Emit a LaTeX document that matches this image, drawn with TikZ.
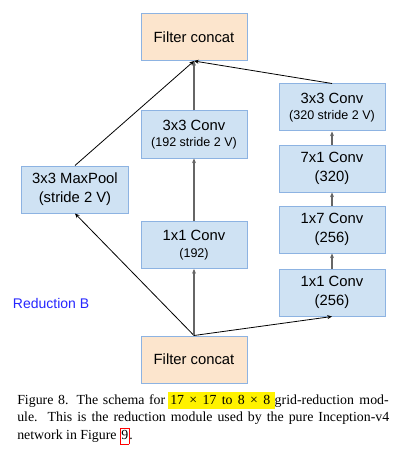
\documentclass[tikz,border=0pt]{standalone}
\usepackage{fontspec}
\setmainfont{Liberation Serif}
\setsansfont{Liberation Sans}
\usetikzlibrary{arrows.meta}

\definecolor{convfill}{HTML}{CFE2F3}
\definecolor{concatfill}{HTML}{FCE5CD}
\definecolor{boxline}{HTML}{8DB3E2}
\definecolor{labelblue}{HTML}{2626FF}
\definecolor{vline}{HTML}{666666}

\newcommand{\subtxt}[1]{{\fontsize{9.4}{11}\selectfont #1}}

\tikzset{
  layer/.style={draw=boxline, line width=0.75pt, inner sep=0pt,
    minimum width=79.5pt, minimum height=35.25pt, align=center,
    font=\sffamily\fontsize{11.1}{14}\selectfont},
  convbox/.style={layer, fill=convfill},
  concatbox/.style={layer, fill=concatfill},
  flow/.style={-{Stealth[length=3.5pt,width=3pt]}, vline, line width=0.9pt},
  skip/.style={-{Stealth[length=3.5pt,width=3pt]}, black, line width=0.6pt},
  captxt/.style={inner sep=0pt, font=\fontsize{10.4}{13}\selectfont}
}

\begin{document}
\begin{tikzpicture}[x=0.75pt, y=-0.75pt]
\useasboundingbox (0,0) rectangle (413,456);

% boxes
\node[concatbox] (concattop) at (194, 37) {Filter concat};
\node[convbox] (conv3a) at (194, 134.5) {3x3 Conv\\[-1.5pt]\subtxt{(192 stride 2 V)}};
\node[convbox] (conv1a) at (194, 245) {1x1 Conv\\[-1.5pt]\subtxt{(192)}};
\node[concatbox] (concatbot) at (194, 359.5) {Filter concat};
\node[convbox, minimum width=80.25pt] (pool) at (75, 189.5) {3x3 MaxPool\\(stride 2 V)};
\node[convbox] (conv3b) at (332, 107.5) {3x3 Conv\\[-1.5pt]\subtxt{(320 stride 2 V)}};
\node[convbox] (conv7b) at (332, 168.5) {7x1 Conv\\(320)};
\node[convbox] (conv17b) at (332, 229.5) {1x7 Conv\\(256)};
\node[convbox] (conv1b) at (332, 292.5) {1x1 Conv\\(256)};

\node[anchor=base west, inner sep=0pt, text=labelblue,
  font=\sffamily\fontsize{10.5}{12}\selectfont] (redlabel) at (12.7, 308) {Reduction B};

% connectors
\draw[skip] (concatbot.north) -- (pool.south);
\draw[flow] (concatbot.north) -- (conv1a.south);
\draw[skip] (concatbot.north) -- (conv1b.south);
\draw[flow] (conv1a) -- (conv3a);
\draw[flow] (conv3a) -- (concattop);
\draw[skip] (pool.north) -- (concattop.south);
\draw[flow] (conv1b) -- (conv17b);
\draw[flow] (conv17b) -- (conv7b);
\draw[flow] (conv7b) -- (conv3b);
\draw[skip] (conv3b.north) -- (concattop.south);

% caption
\fill[yellow] (168, 392) rectangle (275, 408.5);
\node[captxt, anchor=base west] (capa) at (17, 404)
  {\makebox[111pt][s]{Figure 8. The schema for}};
\node[captxt, anchor=base west] (capb) at (170, 404)
  {\makebox[75pt][s]{17 × 17 to 8 × 8}};
\node[captxt, anchor=base east] (capc) at (389, 404)
  {\makebox[85.5pt][s]{grid-reduction mod-}};
\node[captxt, anchor=base west] (capd) at (17, 421.5)
  {\makebox[279pt][s]{ule.\ \ This is the reduction module used by the pure Inception-v4}};
\node[captxt, anchor=base west] (cape) at (17, 439)
  {network in Figure {\setlength{\fboxsep}{0.3pt}\setlength{\fboxrule}{0.6pt}\color{red}\fbox{\rule[-3.2pt]{0pt}{10.6pt}\textcolor{black}{9}}}.};
\end{tikzpicture}
\end{document}
